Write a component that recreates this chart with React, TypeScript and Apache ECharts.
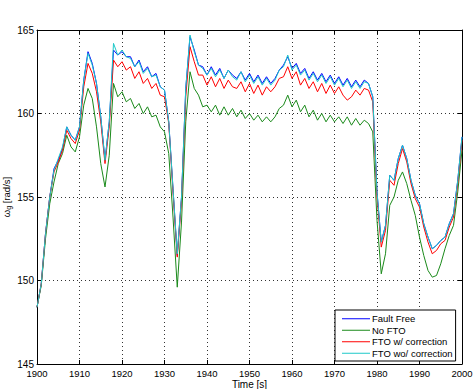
import React, { useEffect, useRef } from "react";
import * as echarts from "echarts";

const startTime = 1900;
const xTicks = [1900, 1910, 1920, 1930, 1940, 1950, 1960, 1970, 1980, 1990, 2000];
const yTicks = [145, 150, 155, 160, 165];

const faultFree = [
  148.4, 149.8, 152.8, 155.0, 156.7, 157.2, 157.9, 159.2, 158.7, 158.4,
  159.2, 162.0, 163.7, 163.0, 161.8, 159.8, 157.2, 159.5, 163.8, 163.5,
  163.7, 163.4, 163.4, 162.8, 163.2, 162.5, 162.8, 162.2, 162.4, 161.6,
  161.4, 159.5, 155.5, 151.5, 155.0, 161.5, 164.6, 163.8, 162.9, 162.8,
  162.3, 162.8, 162.3, 162.7, 162.1, 162.6, 162.3, 162.1, 162.5, 162.0,
  162.4, 161.9, 162.3, 161.8, 162.2, 161.8, 162.1, 162.6, 162.9, 163.4,
  162.7, 163.0, 162.4, 162.7, 162.1, 162.5, 162.0, 162.4, 161.9, 162.3,
  161.8, 162.2, 161.7, 162.1, 161.6, 162.0, 161.6, 162.0, 161.8, 161.0,
  155.3, 152.3, 153.3, 156.3, 156.0, 157.3, 158.1, 157.3, 156.0, 155.1,
  154.6, 153.4, 152.6, 151.9, 152.1, 152.4, 152.6, 153.4, 154.0, 156.0,
  158.6,
];

const noFTO = [
  148.4, 149.7, 152.5, 154.6, 155.9, 157.0, 157.6, 158.7, 158.0, 157.7,
  158.6, 160.5, 161.5, 160.9, 159.2, 157.0, 155.6, 157.5, 161.8, 161.0,
  161.3, 160.7, 160.9, 160.3, 160.6, 160.0, 160.4, 159.8, 159.9, 159.2,
  158.9, 157.6, 153.8, 149.6, 153.5, 159.5, 162.5, 161.5, 161.1, 160.4,
  160.5, 160.1, 160.5, 159.9, 160.4, 159.9, 160.3, 159.8, 160.2, 159.7,
  160.0, 159.6, 159.9, 159.5, 159.8, 159.5, 159.8, 160.3, 160.5, 161.1,
  160.4, 160.8, 160.1, 160.5, 159.8, 160.2, 159.6, 160.0, 159.5, 159.9,
  159.5, 159.8, 159.4, 159.8, 159.3, 159.7, 159.3, 159.6, 159.4, 158.9,
  153.6, 150.4, 151.6, 154.5, 155.0, 156.0, 156.5, 155.8, 154.8, 153.9,
  152.6, 151.5, 150.6, 150.2, 150.3, 151.0, 151.9, 152.7, 153.3, 155.3,
  157.8,
];

const ftoWithCorrection = [
  148.4, 149.8, 152.8, 155.0, 156.5, 157.1, 157.8, 159.0, 158.5, 158.2,
  159.0, 161.6, 163.0, 162.4, 161.3, 159.5, 157.0, 159.2, 163.2, 162.8,
  163.1, 162.6, 162.8, 162.1, 162.5, 161.8, 162.1, 161.5, 161.8, 161.1,
  161.0, 159.4, 155.3, 151.4, 154.8, 161.0, 164.0, 163.1, 162.3, 162.3,
  161.7, 162.2, 161.6, 162.1, 161.5, 162.0, 161.6, 161.5, 161.9, 161.3,
  161.8, 161.2, 161.7, 161.1, 161.6, 161.3, 161.6, 162.1, 162.2, 162.8,
  162.1, 162.5, 161.7, 162.1, 161.5, 161.9, 161.3, 161.8, 161.2, 161.7,
  161.2, 161.6, 161.1, 160.8, 161.0, 161.4, 161.1, 161.5, 161.4, 160.7,
  155.0, 152.0, 153.0, 156.0, 155.7, 157.0, 157.9, 157.1, 155.8, 154.9,
  154.4, 153.2, 152.3, 151.6, 151.8, 152.2, 152.4, 153.2, 153.8, 155.8,
  158.4,
];

const ftoWithoutCorrection = [
  148.4, 149.8, 152.8, 155.0, 156.6, 157.3, 158.0, 159.2, 158.7, 158.4,
  159.2, 162.0, 163.6, 162.9, 161.8, 159.8, 157.2, 159.5, 164.2, 163.5,
  163.8, 163.4, 163.3, 162.8, 163.1, 162.4, 162.7, 162.2, 162.3, 161.6,
  161.4, 159.5, 155.5, 151.6, 155.0, 161.5, 164.7, 163.7, 162.9, 162.7,
  162.3, 162.7, 162.2, 162.6, 162.1, 162.6, 162.2, 162.0, 162.5, 161.9,
  162.3, 161.8, 162.2, 161.7, 162.1, 161.7, 162.0, 162.6, 162.8, 163.5,
  162.6, 162.9, 162.3, 162.6, 162.0, 162.4, 161.9, 162.3, 161.8, 162.2,
  161.7, 162.1, 161.6, 162.0, 161.5, 161.9, 161.5, 161.9, 161.8, 161.0,
  155.3, 152.3, 153.3, 156.3, 156.0, 157.3, 158.1, 157.3, 156.0, 155.1,
  154.6, 153.4, 152.6, 151.9, 152.1, 152.4, 152.6, 153.4, 154.0, 156.0,
  158.6,
];

const seriesNames = ["Fault Free", "No FTO", "FTO w/ correction", "FTO wo/ correction"];
const seriesColors = ["#0000ff", "#1a8a1a", "#ff0000", "#1ec8c8"];
const seriesValues = [faultFree, noFTO, ftoWithCorrection, ftoWithoutCorrection];

const FONT = "Liberation Sans, Arial, sans-serif";

export default function App() {
  const ref = useRef<HTMLDivElement>(null);
  useEffect(() => {
    if (!ref.current) return;
    const chart = echarts.init(ref.current, null, { renderer: "svg" });
    const split = { show: true, lineStyle: { color: "#333", width: 1, type: [1, 3] as any } };
    const xBase = {
      type: "value" as const,
      min: xTicks[0],
      max: xTicks[xTicks.length - 1],
      interval: 10,
      axisLine: { show: true, onZero: false, lineStyle: { color: "#000", width: 1 } },
      axisTick: { show: true, inside: true, length: 4, lineStyle: { color: "#000" } },
    };
    const yBase = {
      type: "value" as const,
      min: yTicks[0],
      max: yTicks[yTicks.length - 1],
      interval: 5,
      axisLine: { show: true, onZero: false, lineStyle: { color: "#000", width: 1 } },
      axisTick: { show: true, inside: true, length: 4, lineStyle: { color: "#000" } },
    };
    chart.setOption({
      animation: false,
      backgroundColor: "#fff",
      grid: { left: 37, right: 12, top: 30, bottom: 25, containLabel: false, outerBoundsMode: "none" },
      xAxis: [
        {
          ...xBase,
          position: "bottom",
          splitLine: split,
          axisLabel: {
            color: "#000",
            fontFamily: FONT,
            fontSize: 9.5,
            margin: 4,
            formatter: (v: number) => String(v),
          },
          name: "Time [s]",
          nameLocation: "middle",
          nameGap: 15,
          nameMoveOverlap: false,
          nameTextStyle: { color: "#000", fontFamily: FONT, fontSize: 10, verticalAlign: "top" },
        },
        { ...xBase, position: "top", splitLine: { show: false }, axisLabel: { show: false } },
      ],
      yAxis: [
        {
          ...yBase,
          position: "left",
          splitLine: split,
          axisLabel: {
            color: "#000",
            fontFamily: FONT,
            fontSize: 10,
            margin: 3,
            lineHeight: 10,
            verticalAlign: "middle",
            padding: [0, 0, 2, 0],
          },
          name: "{a|ω}{b|g}{a| [rad/s]}",
          nameLocation: "middle",
          nameGap: 25,
          nameRotate: 90,
          nameMoveOverlap: false,
          nameTextStyle: {
            color: "#000",
            fontFamily: FONT,
            verticalAlign: "bottom",
            rich: {
              a: { fontSize: 9.5, fontFamily: FONT, color: "#000" },
              b: { fontSize: 7, fontFamily: FONT, color: "#000", padding: [5, 0, 0, 0] },
            },
          },
        },
        { ...yBase, position: "right", splitLine: { show: false }, axisLabel: { show: false } },
      ],
      legend: {
        orient: "vertical",
        left: 335,
        top: 310,
        padding: [3, 3, 2, 7],
        itemGap: 0,
        itemWidth: 28,
        itemHeight: 1,
        icon: "rect",
        backgroundColor: "#fff",
        borderColor: "#000",
        borderWidth: 1,
        textStyle: { color: "#000", fontFamily: FONT, fontSize: 9.5, lineHeight: 11.5, padding: [0, 0, 0, -3] },
        data: seriesNames,
      },
      series: seriesNames.map((name, i) => ({
        name,
        type: "line",
        xAxisIndex: 0,
        yAxisIndex: 0,
        showSymbol: false,
        symbol: "none",
        color: seriesColors[i],
        lineStyle: { width: 1, color: seriesColors[i] },
        data: seriesValues[i].map((v, k) => [startTime + k, v]),
      })),
    });
    return () => chart.dispose();
  }, []);
  return <div ref={ref} style={{ width: 474, height: 389, position: "absolute", left: 0, top: 0 }} />;
}
